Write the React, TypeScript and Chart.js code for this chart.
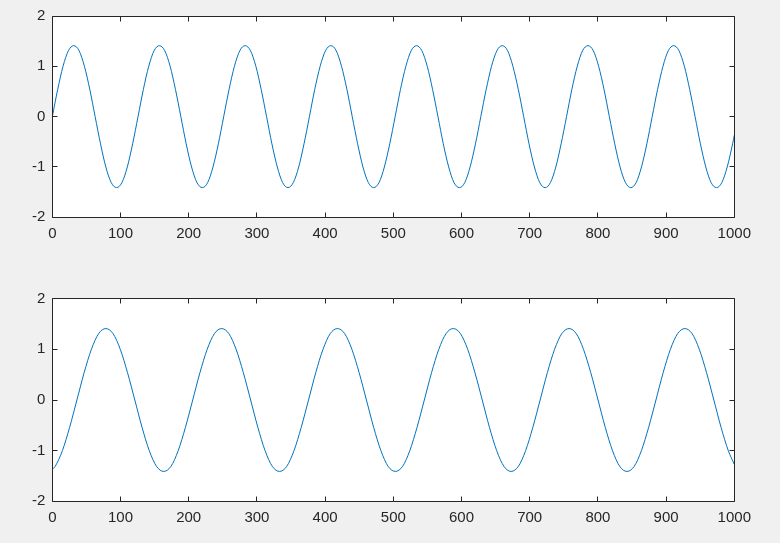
import React, { useEffect, useRef } from "react";
import { Chart, registerables } from "chart.js";

Chart.register(...registerables);

const topX = [
  0, 7.9, 15.7, 23.6, 31.4, 39.3, 47.1, 55.0, 62.8, 70.7, 78.5, 86.4, 94.2, 102.1, 110.0, 117.8,
  125.7, 133.5, 141.4, 149.2, 157.1, 164.9, 172.8, 180.6, 188.5, 196.3, 204.2, 212.1, 219.9, 227.8, 235.6, 243.5,
  251.3, 259.2, 267.0, 274.9, 282.7, 290.6, 298.5, 306.3, 314.2, 322.0, 329.9, 337.7, 345.6, 353.4, 361.3, 369.1,
  377.0, 384.8, 392.7, 400.6, 408.4, 416.3, 424.1, 432.0, 439.8, 447.7, 455.5, 463.4, 471.2, 479.1, 486.9, 494.8,
  502.7, 510.5, 518.4, 526.2, 534.1, 541.9, 549.8, 557.6, 565.5, 573.3, 581.2, 589.0, 596.9, 604.8, 612.6, 620.5,
  628.3, 636.2, 644.0, 651.9, 659.7, 667.6, 675.4, 683.3, 691.2, 699.0, 706.9, 714.7, 722.6, 730.4, 738.3, 746.1,
  754.0, 761.8, 769.7, 777.5, 785.4, 793.3, 801.1, 809.0, 816.8, 824.7, 832.5, 840.4, 848.2, 856.1, 863.9, 871.8,
  879.6, 887.5, 895.4, 903.2, 911.1, 918.9, 926.8, 934.6, 942.5, 950.3, 958.2, 966.0, 973.9, 981.7, 989.6, 997.5,
  1000,
];
const topY = [
  0, 0.54, 1.0, 1.31, 1.41, 1.31, 1.0, 0.54, 0, -0.54, -1.0, -1.31, -1.41, -1.31, -1.0, -0.54,
  0, 0.54, 1.0, 1.31, 1.41, 1.31, 1.0, 0.54, 0, -0.54, -1.0, -1.31, -1.41, -1.31, -1.0, -0.54,
  0, 0.54, 1.0, 1.31, 1.41, 1.31, 1.0, 0.54, 0, -0.54, -1.0, -1.31, -1.41, -1.31, -1.0, -0.54,
  0, 0.54, 1.0, 1.31, 1.41, 1.31, 1.0, 0.54, 0, -0.54, -1.0, -1.31, -1.41, -1.31, -1.0, -0.54,
  0, 0.54, 1.0, 1.31, 1.41, 1.31, 1.0, 0.54, 0, -0.54, -1.0, -1.31, -1.41, -1.31, -1.0, -0.54,
  0, 0.54, 1.0, 1.31, 1.41, 1.31, 1.0, 0.54, 0, -0.54, -1.0, -1.31, -1.41, -1.31, -1.0, -0.54,
  0, 0.54, 1.0, 1.31, 1.41, 1.31, 1.0, 0.54, 0, -0.54, -1.0, -1.31, -1.41, -1.31, -1.0, -0.54,
  0, 0.54, 1.0, 1.31, 1.41, 1.31, 1.0, 0.54, 0, -0.54, -1.0, -1.31, -1.41, -1.31, -1.0, -0.54,
  -0.37,
];

const bottomX = [
  0, 4.2, 14.8, 25.4, 36.1, 46.7, 57.3, 67.9, 78.5, 89.1, 99.7, 110.3, 121.0, 131.6, 142.2, 152.8,
  163.4, 174.0, 184.6, 195.2, 205.9, 216.5, 227.1, 237.7, 248.3, 258.9, 269.5, 280.1, 290.8, 301.4, 312.0, 322.6,
  333.2, 343.8, 354.4, 365.0, 375.7, 386.3, 396.9, 407.5, 418.1, 428.7, 439.3, 449.9, 460.6, 471.2, 481.8, 492.4,
  503.0, 513.6, 524.2, 534.8, 545.5, 556.1, 566.7, 577.3, 587.9, 598.5, 609.1, 619.7, 630.4, 641.0, 651.6, 662.2,
  672.8, 683.4, 694.0, 704.6, 715.3, 725.9, 736.5, 747.1, 757.7, 768.3, 778.9, 789.5, 800.2, 810.8, 821.4, 832.0,
  842.6, 853.2, 863.8, 874.4, 885.1, 895.7, 906.3, 916.9, 927.5, 938.1, 948.7, 959.3, 970.0, 980.6, 991.2, 1000,
];
const bottomY = [
  -1.37, -1.31, -1.0, -0.54, 0, 0.54, 1.0, 1.31, 1.41, 1.31, 1.0, 0.54, 0, -0.54, -1.0, -1.31,
  -1.41, -1.31, -1.0, -0.54, 0, 0.54, 1.0, 1.31, 1.41, 1.31, 1.0, 0.54, 0, -0.54, -1.0, -1.31,
  -1.41, -1.31, -1.0, -0.54, 0, 0.54, 1.0, 1.31, 1.41, 1.31, 1.0, 0.54, 0, -0.54, -1.0, -1.31,
  -1.41, -1.31, -1.0, -0.54, 0, 0.54, 1.0, 1.31, 1.41, 1.31, 1.0, 0.54, 0, -0.54, -1.0, -1.31,
  -1.41, -1.31, -1.0, -0.54, 0, 0.54, 1.0, 1.31, 1.41, 1.31, 1.0, 0.54, 0, -0.54, -1.0, -1.31,
  -1.41, -1.31, -1.0, -0.54, 0, 0.54, 1.0, 1.31, 1.41, 1.31, 1.0, 0.54, 0, -0.54, -1.0, -1.27,
];

const xTicks = [0, 100, 200, 300, 400, 500, 600, 700, 800, 900, 1000];
const yTicks = [-2, -1, 0, 1, 2];

const AXIS_COLOR = "#262626";
const LINE_COLOR = "#0072BD";
const FONT = { family: "'Liberation Sans', Arial, Helvetica, sans-serif", size: 15 };

const framePlugin = {
  id: "matlabFrame",
  beforeDraw(chart: any) {
    const { ctx, chartArea: a } = chart;
    ctx.save();
    ctx.fillStyle = "#FFFFFF";
    ctx.fillRect(a.left, a.top, a.right - a.left, a.bottom - a.top);
    ctx.restore();
  },
  afterDraw(chart: any) {
    const { ctx, chartArea: a, scales } = chart;
    const L = Math.floor(a.left) + 0.5;
    const R = Math.floor(a.right) + 0.5;
    const T = Math.floor(a.top) + 0.5;
    const B = Math.floor(a.bottom) + 0.5;
    const tl = 5;
    ctx.save();
    ctx.strokeStyle = AXIS_COLOR;
    ctx.lineWidth = 1;
    ctx.beginPath();
    ctx.rect(L, T, R - L, B - T);
    for (const v of xTicks) {
      const px = Math.floor(scales.x.getPixelForValue(v)) + 0.5;
      ctx.moveTo(px, B);
      ctx.lineTo(px, B - tl);
      ctx.moveTo(px, T);
      ctx.lineTo(px, T + tl);
    }
    for (const v of yTicks) {
      const py = Math.floor(scales.y.getPixelForValue(v)) + 0.5;
      ctx.moveTo(L, py);
      ctx.lineTo(L + tl, py);
      ctx.moveTo(R, py);
      ctx.lineTo(R - tl, py);
    }
    ctx.stroke();
    ctx.restore();
  },
};

type PanelProps = {
  xs: number[];
  ys: number[];
  top: number;
  height: number;
  areaTop: number;
  areaBottom: number;
};

const AREA_LEFT = 52.3;
const AREA_RIGHT = 734.3;
const WIDTH = 780;

function Panel({ xs, ys, top, height, areaTop, areaBottom }: PanelProps) {
  const ref = useRef<HTMLCanvasElement | null>(null);
  useEffect(() => {
    if (!ref.current) return;
    const data = xs.map((x, i) => ({ x, y: ys[i] }));
    const chart = new Chart(ref.current, {
      type: "line",
      data: {
        datasets: [
          {
            data,
            borderColor: LINE_COLOR,
            borderWidth: 1,
            pointRadius: 0,
            fill: false,
            cubicInterpolationMode: "monotone",
          },
        ],
      },
      plugins: [framePlugin],
      options: {
        animation: false,
        responsive: false,
        events: [],
        layout: {
          padding: { left: 0, right: WIDTH - AREA_RIGHT, top: areaTop - top, bottom: 0 },
        },
        plugins: { legend: { display: false }, tooltip: { enabled: false }, title: { display: false } },
        scales: {
          x: {
            type: "linear",
            min: 0,
            max: 1000,
            afterBuildTicks: (s: any) => {
              s.ticks = xTicks.map((v) => ({ value: v }));
            },
            afterFit: (s: any) => {
              s.height = top + height - areaBottom;
            },
            ticks: {
              color: AXIS_COLOR,
              font: FONT,
              padding: 8,
              maxRotation: 0,
              autoSkip: false,
              callback: (v: any) => String(v),
            },
            grid: { display: false, drawTicks: false },
            border: { display: false },
          },
          y: {
            type: "linear",
            min: -2,
            max: 2,
            afterBuildTicks: (s: any) => {
              s.ticks = yTicks.map((v) => ({ value: v }));
            },
            afterFit: (s: any) => {
              s.width = AREA_LEFT;
            },
            ticks: {
              color: AXIS_COLOR,
              font: FONT,
              padding: 7,
              autoSkip: false,
              callback: (v: any) => String(v),
            },
            grid: { display: false, drawTicks: false },
            border: { display: false },
          },
        },
      },
    } as any);
    return () => chart.destroy();
  }, [xs, ys, top, height, areaTop, areaBottom]);
  return (
    <canvas
      ref={ref}
      width={WIDTH}
      height={height}
      style={{ position: "absolute", left: 0, top, width: WIDTH, height, display: "block" }}
    />
  );
}

export default function App() {
  return (
    <div
      style={{
        position: "fixed",
        left: 0,
        top: 0,
        width: 780,
        height: 543,
        background: "#F0F0F0",
        overflow: "hidden",
      }}
    >
      <Panel xs={topX} ys={topY} top={0} height={262} areaTop={14.7} areaBottom={217.3} />
      <Panel xs={bottomX} ys={bottomY} top={282} height={261} areaTop={298.7} areaBottom={501.3} />
    </div>
  );
}
